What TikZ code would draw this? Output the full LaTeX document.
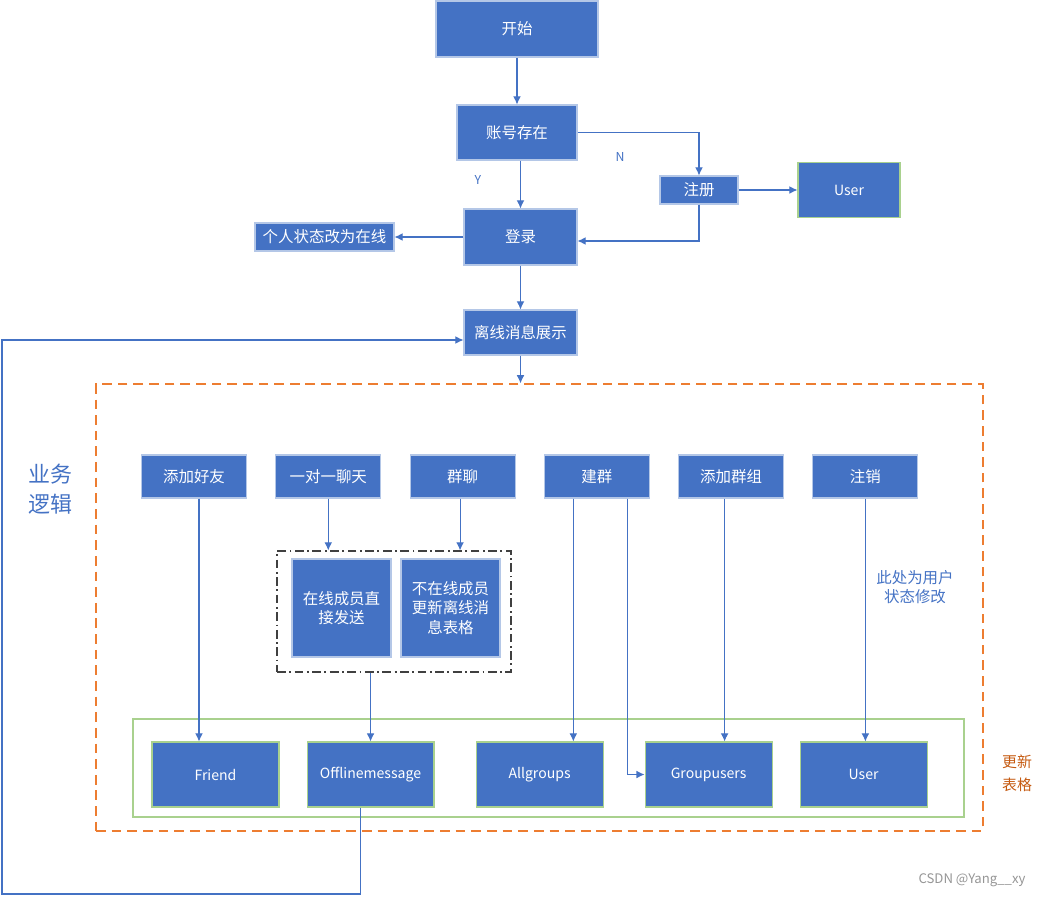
\documentclass[tikz,border=0pt]{standalone}
\usepackage{fontspec}
\setmainfont{Noto Sans CJK SC}
\usetikzlibrary{positioning,arrows.meta}
\definecolor{boxblue}{RGB}{68,114,196}
\definecolor{edgeblue}{RGB}{180,199,231}
\definecolor{tblgreen}{RGB}{169,209,142}
\definecolor{bizorange}{RGB}{237,125,49}
\definecolor{updbrown}{RGB}{197,90,17}
\definecolor{wmgray}{RGB}{150,150,150}

\begin{document}
\begin{tikzpicture}[x=0.02cm,y=-0.02cm,inner sep=0pt,node distance=0.565cm,font=\fontsize{8.8}{11}\selectfont]
\tikzstyle{main}=[rectangle, fill=boxblue, draw=edgeblue, line width=0.6pt, text=white, align=center]
\tikzstyle{op}=[main, minimum width=2.1cm, minimum height=0.86cm]
\tikzstyle{tbl}=[main, draw=tblgreen, minimum width=2.54cm, minimum height=1.3cm, font=\fontsize{8}{10}\selectfont]
\tikzstyle{connect}=[-{Latex[length=4.6pt,width=4.4pt]}, line width=0.6pt, draw=boxblue]
\tikzstyle{note}=[text=boxblue, align=center]
\useasboundingbox (0,0) rectangle (1041,896);
% login part
\node[main, minimum width=3.24cm, minimum height=1.12cm] (start) at (517,29) {开始};
\node[main, minimum width=2.4cm, minimum height=1.1cm] (exist) at (517,132.5) {账号存在};
\node[main, minimum width=1.56cm, minimum height=0.56cm] (reg) at (699,190) {注册};
\node[main, draw=tblgreen, minimum width=2.04cm, minimum height=1.1cm, font=\fontsize{8}{10}\selectfont] (user1) at (849,190) {User};
\node[main, minimum width=2.26cm, minimum height=1.12cm] (login) at (520.5,237) {登录};
\node[main, minimum width=2.78cm, minimum height=0.56cm] (online) at (324.5,237) {个人状态改为在线};
\node[main, minimum width=2.26cm, minimum height=0.9cm] (offshow) at (520.5,332.5) {离线消息展示};
\node[note, font=\fontsize{7}{8}\selectfont] (yes) at (478,180) {Y};
\node[note, font=\fontsize{7}{8}\selectfont] (no) at (620,157) {N};
% business part
\node[draw=bizorange, dash pattern=on 5.5pt off 3.4pt, line width=0.85pt, minimum width=17.74cm, minimum height=8.94cm] (biz) at (539.5,607.5) {};
\node[note, font=\fontsize{12.5}{17}\selectfont] (bizlbl) at (50,489) {业务\\逻辑};
\node[op] (addf) at (194,476.5) {添加好友};
\node[op] (chat) [right=of addf] {一对一聊天};
\node[op] (gchat) [right=of chat] {群聊};
\node[op] (build) [right=of gchat] {建群};
\node[op] (addg) [right=of build] {添加群组};
\node[op] (logout) [right=of addg] {注销};
\node[draw=black!75, dash pattern=on 5pt off 2pt on 1pt off 2pt, line width=0.7pt, minimum width=4.68cm, minimum height=2.42cm] (grp) at (394,611.5) {};
\node[main, minimum width=1.98cm, minimum height=1.96cm] (direct) at (341.5,608) {在线成员直\\接发送};
\node[main, minimum width=1.98cm, minimum height=1.96cm] (store) at (450.5,608) {不在线成员\\更新离线消\\息表格};
\node[note] (usrnote) at (915,587) {此处为用户\\状态修改};
% tables
\node[draw=tblgreen, line width=0.8pt, minimum width=16.62cm, minimum height=1.96cm] (tables) at (548.5,768) {};
\node[tbl] (friend) at (215.5,774.5) {Friend};
\node[tbl] (offmsg) [right=0.54cm of friend] {Offlinemessage};
\node[tbl] (allg) [right=0.82cm of offmsg] {Allgroups};
\node[tbl] (gusers) [right=0.82cm of allg] {Groupusers};
\node[tbl] (user2) [right=0.54cm of gusers] {User};
\node[text=updbrown, align=center, font=\fontsize{8.5}{13}\selectfont] (updlbl) at (1017,773) {更新\\表格};
\node[text=wmgray, font=\fontsize{7.5}{9}\selectfont] (mark) at (972,880) {CSDN @Yang\_\_xy};
\coordinate (loopc) at (2,894);
% connections
\path (start) edge[connect] (exist);
\draw[connect] (exist.east) -| (reg.north);
\path (reg) edge[connect] (user1);
\draw[connect] (reg.south) |- ([yshift=-0.08cm]login.east);
\draw[connect] (login.north |- exist.south) -- (login.north);
\path (login) edge[connect] (online);
\path (login) edge[connect] (offshow);
\draw[connect] (offshow.south) -- (offshow.south |- biz.north);
\draw[connect] ([xshift=0.1cm]addf.south) -- ([xshift=0.1cm]addf.south |- friend.north);
\draw[connect] (chat.south) -- (chat.south |- grp.north);
\draw[connect] ([xshift=-0.05cm]gchat.south) -- ([xshift=-0.05cm]gchat.south |- grp.north);
\draw[connect] (offmsg.north |- grp.south) -- (offmsg.north);
\draw[connect] ([xshift=-0.47cm]build.south) -- ([xshift=-0.47cm]build.south |- allg.north);
\draw[connect] ([xshift=0.61cm]build.south) |- (gusers.west);
\draw[connect] ([xshift=-0.13cm]addg.south) -- ([xshift=-0.13cm]addg.south |- gusers.north);
\draw[connect] (logout.south) -- (logout.south |- user2.north);
\draw[connect] ([xshift=-0.21cm]offmsg.south) |- (loopc) |- ([yshift=-0.15cm]offshow.west);
\end{tikzpicture}
\end{document}
